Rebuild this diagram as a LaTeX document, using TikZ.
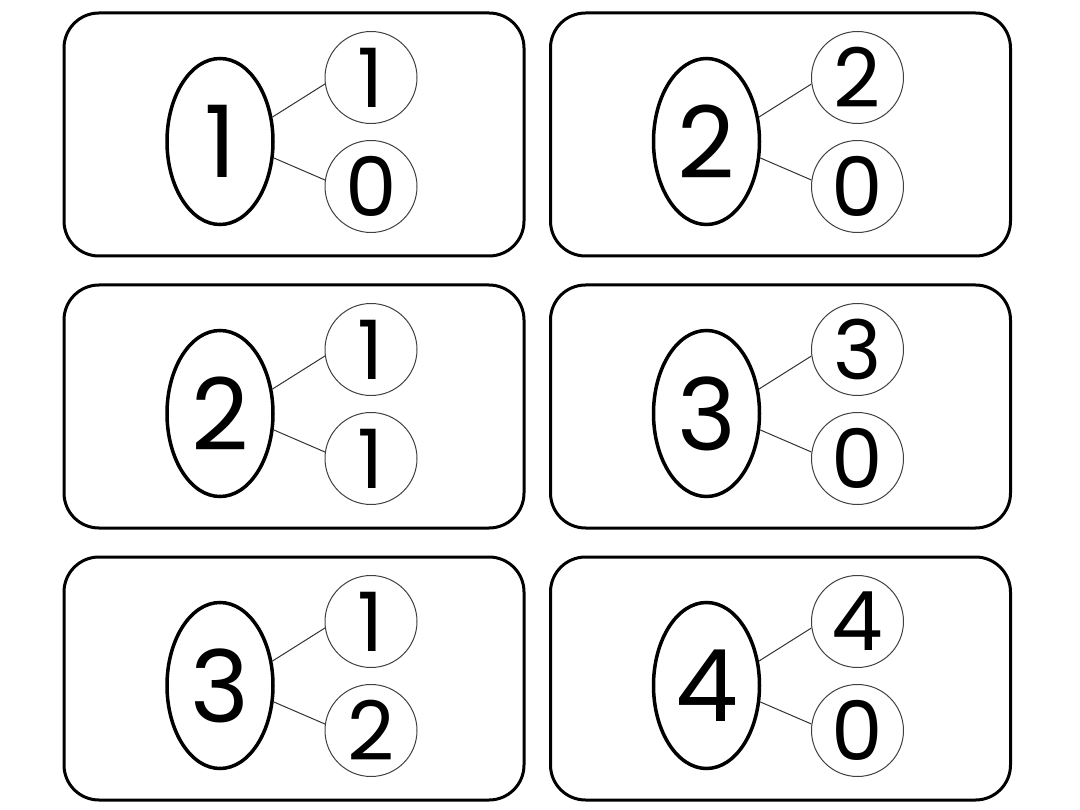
\documentclass[tikz,border=0pt]{standalone}
\usepackage{fontspec}
\setmainfont{Poppins}
\usetikzlibrary{shapes.geometric,positioning}
\newcommand{\cardWidth}{460}
\newcommand{\cardHeight}{243}
\newcommand{\cardRadius}{35}
\newcommand{\colDistance}{486.5}
\newcommand{\rowDistance}{272}
\newcommand{\bondCards}{0/0/1/1/0, 1/0/2/2/0, 0/1/2/1/1, 1/1/3/3/0, 0/2/3/1/2, 1/2/4/4/0} % col/row/whole/top part/bottom part

\tikzset{
	card/.style={draw, line width=3pt, rounded corners=\cardRadius pt, minimum width=\cardWidth pt, minimum height=\cardHeight pt},
	whole/.style={draw, ellipse, line width=3.5pt, minimum width=106pt, minimum height=166pt, inner sep=0pt, font=\fontsize{100}{100}\selectfont},
	part/.style={draw=black!75, circle, line width=1pt, minimum size=92pt, inner sep=0pt, font=\fontsize{82}{82}\selectfont},
	bond/.style={line width=1pt, black!80}
}

\begin{document}
\begin{tikzpicture}[x=1pt,y=-1pt]
	\useasboundingbox (0,0) rectangle (1080,810);
	
	\foreach \col/\row/\whole/\partA/\partB in \bondCards
	{
		\node[card] (card-\col-\row) at ({294+\col*\colDistance},{134.5+\row*\rowDistance}) {};
		\node[whole] (whole-\col-\row) at ([shift={(-74,7)}]card-\col-\row.center) {\whole};
		\node[part] (top-\col-\row) at ([shift={(151,-64)}]whole-\col-\row.center) {\partA};
		\node[part] (bottom-\col-\row) at ([shift={(151,45)}]whole-\col-\row.center) {\partB};
		\draw[bond] (whole-\col-\row.25) -- (top-\col-\row.188);
		\draw[bond] (whole-\col-\row.-17) -- (bottom-\col-\row.172);
	}
\end{tikzpicture}
\end{document}
